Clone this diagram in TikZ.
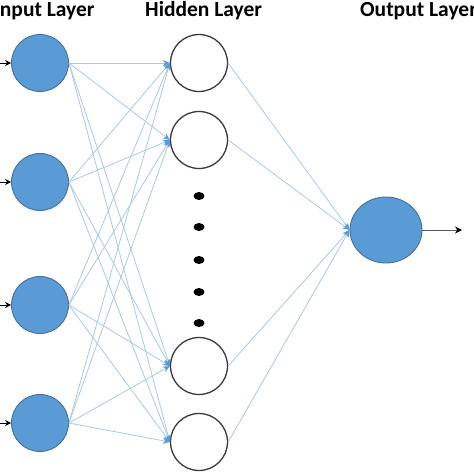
\documentclass[tikz,border=0pt]{standalone}
\usepackage{fontspec}
\setmainfont{Carlito}
\usetikzlibrary{arrows.meta,shapes.geometric}
\definecolor{inblue}{HTML}{5B9BD5}
\definecolor{inborder}{HTML}{41719C}
\definecolor{edgeblue}{HTML}{A9C8E8}
\definecolor{hidborder}{HTML}{3A3A3A}
\tikzset{
  innode/.style={circle, fill=inblue, draw=inborder, line width=0.9pt, minimum size=57pt, inner sep=0pt},
  hidnode/.style={circle, fill=white, draw=hidborder, line width=1.3pt, minimum size=57pt, inner sep=0pt},
  outnode/.style={ellipse, fill=inblue, draw=inborder, line width=0.9pt, minimum width=72pt, minimum height=66pt, inner sep=0pt},
  dotnode/.style={ellipse, fill=black, minimum width=11pt, minimum height=8pt, inner sep=0pt},
  conn/.style={draw=edgeblue, line width=0.8pt, -{Stealth[length=7pt,width=6pt,color=inblue]}},
  inarrow/.style={draw=black, line width=0.6pt, -{Stealth[length=6pt,width=6pt]}},
  outarrow/.style={draw=gray!70!black, line width=0.8pt, -{Stealth[length=7pt,width=7pt,color=black]}},
  title/.style={font=\bfseries\fontsize{21.5}{23}\selectfont, inner sep=0pt, anchor=base west}
}
\begin{document}
\begin{tikzpicture}[x=1pt, y=-1pt]
\useasboundingbox (0,0) rectangle (474,474);
% titles
\node[title] (t1) at (-6,16) {Input Layer};
\node[title] (t2) at (145,16) {Hidden Layer};
\node[title] (t3) at (360,16) {Output Layer};
% input nodes
\node[innode] (i1) at (40,63) {};
\node[innode] (i2) at (40,182) {};
\node[innode] (i3) at (40,305) {};
\node[innode] (i4) at (40,423) {};
% hidden nodes
\node[hidnode] (h1) at (199,63) {};
\node[hidnode] (h2) at (199,140) {};
\node[hidnode] (h3) at (199,366) {};
\node[hidnode] (h4) at (199,442) {};
% dots
\node[dotnode] (d1) at (199,196) {};
\node[dotnode] (d2) at (199,227) {};
\node[dotnode] (d3) at (199,260) {};
\node[dotnode] (d4) at (199,292) {};
\node[dotnode] (d5) at (199,323) {};
% output
\node[outnode] (o) at (386,230) {};
% connections
\foreach \i in {1,...,4} {
  \foreach \h in {1,...,4} {
    \draw[conn] (i\i.east) -- (h\h.west);
  }
}
\foreach \h in {1,...,4} {
  \draw[conn] (h\h.east) -- (o.west);
}
% input arrows
\coordinate (a1) at (-2,63);
\coordinate (a2) at (-2,182);
\coordinate (a3) at (-2,305);
\coordinate (a4) at (-2,423);
\foreach \i in {1,...,4} {
  \draw[inarrow] (a\i) -- (i\i.west);
}
\coordinate (oe) at (462,230);
\draw[outarrow] (o.east) -- (oe);
\end{tikzpicture}
\end{document}
